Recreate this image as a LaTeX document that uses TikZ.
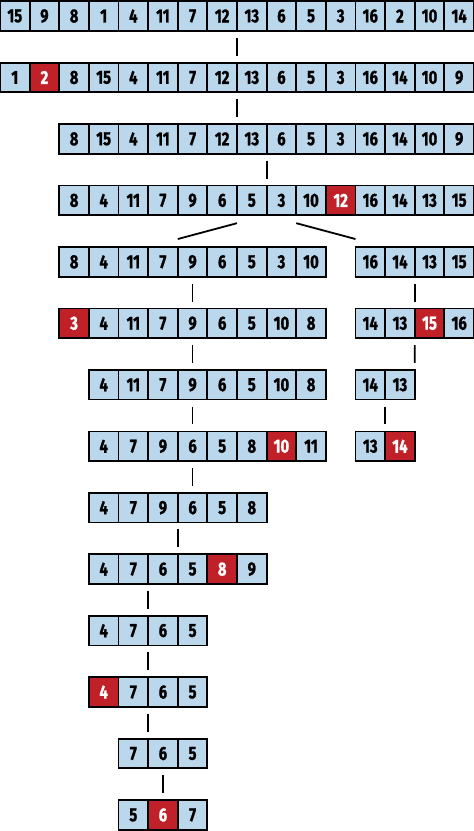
\documentclass[tikz,border=0pt]{standalone}
\usepackage{fontspec}
\newfontfamily\cellfont[FakeStretch=0.78,FakeBold=1.2]{Fira Sans}
\definecolor{cellblue}{RGB}{187,215,236}
\definecolor{cellred}{RGB}{192,32,40}
\tikzset{
  cellbase/.style={draw=black, line width=1.8bp, outer sep=0pt, minimum width=29.625bp, minimum height=29.6bp, inner sep=0pt, font=\cellfont\bfseries\fontsize{19}{19}\selectfont},
  bluecell/.style={cellbase, fill=cellblue, text=black},
  redcell/.style={cellbase, fill=cellred, text=white},
  conn/.style={line width=1.8bp, draw=black}
}
\newcommand\rowcells[4]{%
  \pgfmathsetmacro\ry{16+61.46*(#1-1)}%
  \foreach \v [count=\c from #2] in {#3} {%
    \ifnum\c=#4 \def\cst{redcell}\else\def\cst{bluecell}\fi
    \pgfmathsetmacro\cx{29.625*\c+14.8125}%
    \node[\cst] (r#1-\c) at (\cx,\ry) {\v};
  }%
}
\begin{document}
\begin{tikzpicture}[x=1bp,y=-1bp]
\useasboundingbox (0,0) rectangle (474,831);
\rowcells{1}{0}{15,9,8,1,4,11,7,12,13,6,5,3,16,2,10,14}{-1}
\rowcells{2}{0}{1,2,8,15,4,11,7,12,13,6,5,3,16,14,10,9}{1}
\rowcells{3}{2}{8,15,4,11,7,12,13,6,5,3,16,14,10,9}{-1}
\rowcells{4}{2}{8,4,11,7,9,6,5,3,10,12,16,14,13,15}{11}
\rowcells{5}{2}{8,4,11,7,9,6,5,3,10}{-1}
\rowcells{5}{12}{16,14,13,15}{-1}
\rowcells{6}{2}{3,4,11,7,9,6,5,10,8}{2}
\rowcells{6}{12}{14,13,15,16}{14}
\rowcells{7}{3}{4,11,7,9,6,5,10,8}{-1}
\rowcells{7}{12}{14,13}{-1}
\rowcells{8}{3}{4,7,9,6,5,8,10,11}{9}
\rowcells{8}{12}{13,14}{13}
\rowcells{9}{3}{4,7,9,6,5,8}{-1}
\rowcells{10}{3}{4,7,6,5,8,9}{7}
\rowcells{11}{3}{4,7,6,5}{-1}
\rowcells{12}{3}{4,7,6,5}{3}
\rowcells{13}{4}{7,6,5}{-1}
\rowcells{14}{4}{5,6,7}{5}
% connectors
\draw[conn] ([yshift=-7bp]r1-8.south west) -- ([yshift=7bp]r2-8.north west);
\draw[conn] ([yshift=-7bp]r2-8.south west) -- ([yshift=7bp]r3-8.north west);
\draw[conn] ([yshift=-7bp]r3-9.south west) -- ([yshift=7bp]r4-9.north west);
\draw[conn] ([yshift=-8bp]r4-8.south west) -- ([yshift=8bp]r5-6.north west);
\draw[conn] ([yshift=-8bp]r4-10.south west) -- ([yshift=8bp]r5-12.north west);
\draw[conn] ([yshift=-7bp]r5-6.south) -- ([yshift=7bp]r6-6.north);
\draw[conn] ([yshift=-7bp]r5-14.south west) -- ([yshift=7bp]r6-14.north west);
\draw[conn] ([yshift=-7bp]r6-6.south) -- ([yshift=7bp]r7-6.north);
\draw[conn] ([yshift=-7bp]r6-14.south west) -- ([yshift=7bp]r7-13.north east);
\draw[conn] ([yshift=-7bp]r7-6.south) -- ([yshift=7bp]r8-6.north);
\draw[conn] ([yshift=-7bp]r7-13.south west) -- ([yshift=7bp]r8-13.north west);
\draw[conn] ([yshift=-7bp]r8-6.south) -- ([yshift=7bp]r9-6.north);
\draw[conn] ([yshift=-7bp]r9-6.south west) -- ([yshift=7bp]r10-6.north west);
\draw[conn] ([yshift=-7bp]r10-5.south west) -- ([yshift=7bp]r11-5.north west);
\draw[conn] ([yshift=-7bp]r11-5.south west) -- ([yshift=7bp]r12-5.north west);
\draw[conn] ([yshift=-7bp]r12-5.south west) -- ([yshift=7bp]r13-5.north west);
\draw[conn] ([yshift=-7bp]r13-5.south) -- ([yshift=7bp]r14-5.north);
\end{tikzpicture}
\end{document}
